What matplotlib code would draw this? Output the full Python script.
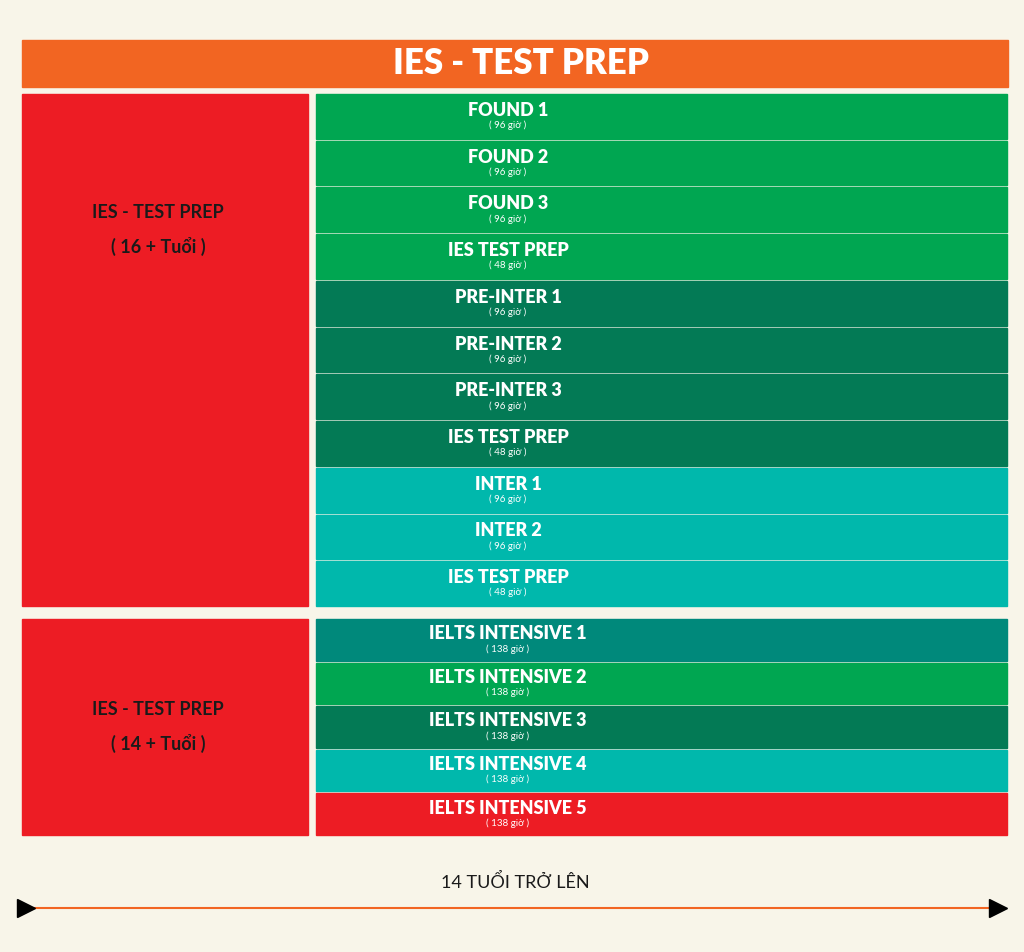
import matplotlib
matplotlib.use("Agg")
import matplotlib.pyplot as plt
from matplotlib.patches import Rectangle

title = "IES - TEST PREP"
group_labels = ["IES - TEST PREP\n( 16 + Tuổi )", "IES - TEST PREP\n( 14 + Tuổi )"]
g1_names = ["FOUND 1", "FOUND 2", "FOUND 3", "IES TEST PREP", "PRE-INTER 1", "PRE-INTER 2",
            "PRE-INTER 3", "IES TEST PREP", "INTER 1", "INTER 2", "IES TEST PREP"]
g1_hours = [96, 96, 96, 48, 96, 96, 96, 48, 96, 96, 48]
g1_kind = ["g", "g", "g", "g", "d", "d", "d", "d", "t", "t", "t"]
g2_names = ["IELTS INTENSIVE 1", "IELTS INTENSIVE 2", "IELTS INTENSIVE 3", "IELTS INTENSIVE 4", "IELTS INTENSIVE 5"]
g2_hours = [138, 138, 138, 138, 138]
g2_kind = ["dt", "g", "d", "t", "r"]
axis_label = "14 TUỔI TRỞ LÊN"

colors = {"g": "#00A651", "d": "#037A55", "t": "#00B8AC", "dt": "#00897B", "r": "#ED1C24"}
BG = "#F8F5E9"; RED = "#ED1C24"; ORANGE = "#F26522"
FONT = "Montserrat"
plt.rcParams["font.family"] = ["Lato", "DejaVu Sans"]

fig = plt.figure(figsize=(10.24, 9.52), dpi=100, facecolor=BG)
ax = fig.add_axes([0, 0, 1, 1])
ax.set_xlim(0, 1024); ax.set_ylim(952, 0); ax.axis("off")

ax.add_patch(Rectangle((22, 40), 986, 47, color=ORANGE))
ax.text(521, 63, title, ha="center", va="center", color="white", fontsize=25, fontweight="black")

def block(y0, y1, names, hours, kinds, label, fs):
    ax.add_patch(Rectangle((22, y0), 286, y1 - y0, color=RED))
    ax.text(158, (y0 + y1) / 2 - (120 if len(names) > 5 else 0), label, ha="center", va="center",
            fontsize=13, fontweight="bold", color="#1a1a1a", linespacing=2.0)
    n = len(names); h = (y1 - y0 + 2) / n
    for i, (nm, hr, k) in enumerate(zip(names, hours, kinds)):
        top = y0 + i * h
        ax.add_patch(Rectangle((316, top), 691, h - 2, color=colors[k]))
        cy = top + (h - 2) / 2
        ax.text(508, cy - 6, nm, ha="center", va="center", color="white", fontsize=fs, fontweight="black")
        ax.text(508, cy + 9, f"( {hr} giờ )", ha="center", va="center", color="white", fontsize=7)

block(94, 606, g1_names, g1_hours, g1_kind, group_labels[0], 13)
block(619, 835, g2_names, g2_hours, g2_kind, group_labels[1], 13)

ax.text(515, 882, axis_label, ha="center", va="center", fontsize=13, color="#1a1a1a")
ax.plot([30, 995], [908, 908], color=ORANGE, lw=1.5)
ax.plot([26], [908], marker=">", color="black", markersize=13)
ax.plot([998], [908], marker=">", color="black", markersize=13)

fig.savefig("out.png", dpi=100, facecolor=BG)
